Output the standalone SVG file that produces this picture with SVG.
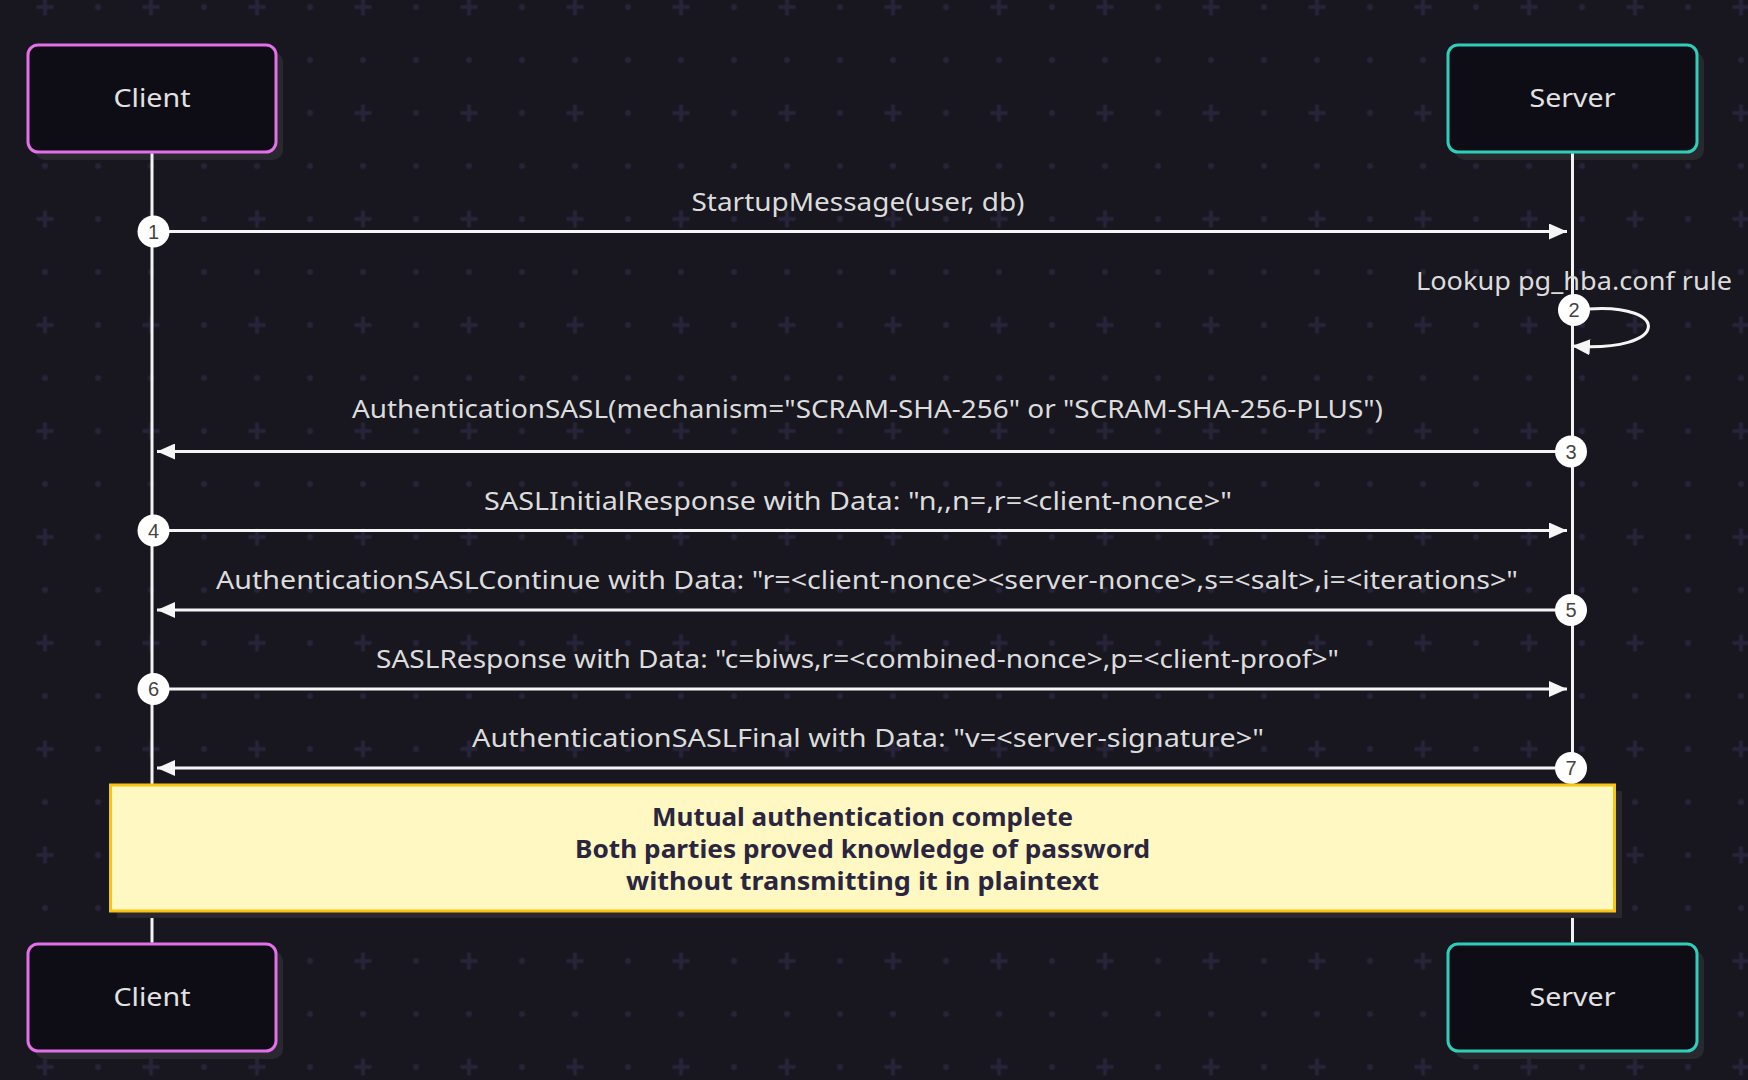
<svg xmlns="http://www.w3.org/2000/svg" width="1748" height="1080" viewBox="0 0 1748 1080">
<style>
.bg{fill:#18161f}
.grid{fill:#27243a}
.gridp{stroke:#27243a;stroke-width:4}
.shadow{fill:#29282f}
.actor{fill:#0e0d16;stroke-width:3}
.client{stroke:#e56fe9}
.server{stroke:#2ecfba}
.alabel{font-family:"Noto Sans","Open Sans",sans-serif;font-size:26px;fill:#e2e2e2;text-anchor:middle}
.life{stroke:#f2f2f2;stroke-width:3}
.msg{stroke:#f5f5f5;stroke-width:3;fill:none}
.mlabel{font-family:"Noto Sans","Open Sans",sans-serif;font-size:25px;fill:#dcdcdc;text-anchor:middle}
.num{fill:#ffffff}
.numt{font-family:"Liberation Sans",sans-serif;font-size:20px;fill:#444444;text-anchor:middle}
.note{fill:#fff8c3;stroke:#f6c414;stroke-width:3}
.notet{font-family:"Noto Sans","Open Sans",sans-serif;font-size:25px;font-weight:bold;fill:#2a2640;text-anchor:middle}
</style>
<defs>
<pattern id="grid" patternUnits="userSpaceOnUse" x="18.5" y="-19.5" width="106" height="106">
<path class="gridp" d="M18 26.5H35M26.5 18V35"/>
<circle class="grid" cx="79.5" cy="26.5" r="3"/>
<circle class="grid" cx="26.5" cy="79.5" r="3"/>
<circle class="grid" cx="79.5" cy="79.5" r="3"/>
</pattern>
<marker id="ah" markerUnits="userSpaceOnUse" markerWidth="18" markerHeight="16" refX="18" refY="8" orient="auto">
<path d="M0,0 L18,8 L0,16 z" fill="#f5f5f5"/>
</marker>
</defs>
<rect class="bg" x="0" y="0" width="1748" height="1080"/>
<rect x="0" y="0" width="1748" height="1080" fill="url(#grid)"/>

<g id="client-top">
<rect class="shadow" x="35" y="52" width="248" height="108" rx="10"/>
<rect class="actor client" x="28" y="45" width="248" height="107" rx="10"/>
<text class="alabel" x="152" y="107" textLength="77" lengthAdjust="spacingAndGlyphs">Client</text>
</g>
<g id="server-top">
<rect class="shadow" x="1455" y="52" width="249" height="108" rx="10"/>
<rect class="actor server" x="1448" y="45" width="249" height="107" rx="10"/>
<text class="alabel" x="1572.5" y="107" textLength="86" lengthAdjust="spacingAndGlyphs">Server</text>
</g>
<g id="client-bottom">
<rect class="shadow" x="35" y="951" width="248" height="108" rx="10"/>
<rect class="actor client" x="28" y="944" width="248" height="107" rx="10"/>
<text class="alabel" x="152" y="1006" textLength="77" lengthAdjust="spacingAndGlyphs">Client</text>
</g>
<g id="server-bottom">
<rect class="shadow" x="1455" y="951" width="249" height="108" rx="10"/>
<rect class="actor server" x="1448" y="944" width="249" height="107" rx="10"/>
<text class="alabel" x="1572.5" y="1006" textLength="86" lengthAdjust="spacingAndGlyphs">Server</text>
</g>

<g id="lifelines">
<line class="life" x1="152" y1="153.5" x2="152" y2="942.5"/>
<line class="life" x1="1572.5" y1="153.5" x2="1572.5" y2="942.5"/>
</g>

<g id="connectors">
<line class="msg" x1="153" y1="231.5" x2="1567" y2="231.5" marker-end="url(#ah)"/>
<text class="mlabel" x="858" y="211" textLength="333" lengthAdjust="spacingAndGlyphs">StartupMessage(user, db)</text>

<path class="msg" d="M1588 309 C1671 303 1671 353 1572 346" marker-end="url(#ah)"/>
<text class="mlabel" x="1574" y="290" textLength="316" lengthAdjust="spacingAndGlyphs">Lookup pg_hba.conf rule</text>

<line class="msg" x1="1571" y1="451.5" x2="157" y2="451.5" marker-end="url(#ah)"/>
<text class="mlabel" x="867.5" y="418" textLength="1031" lengthAdjust="spacingAndGlyphs">AuthenticationSASL(mechanism="SCRAM-SHA-256" or "SCRAM-SHA-256-PLUS")</text>

<line class="msg" x1="153" y1="530.5" x2="1567" y2="530.5" marker-end="url(#ah)"/>
<text class="mlabel" x="858" y="509.5" textLength="748" lengthAdjust="spacingAndGlyphs">SASLInitialResponse with Data: "n,,n=,r=&lt;client-nonce&gt;"</text>

<line class="msg" x1="1571" y1="610" x2="157" y2="610" marker-end="url(#ah)"/>
<text class="mlabel" x="867" y="589" textLength="1302" lengthAdjust="spacingAndGlyphs">AuthenticationSASLContinue with Data: "r=&lt;client-nonce&gt;&lt;server-nonce&gt;,s=&lt;salt&gt;,i=&lt;iterations&gt;"</text>

<line class="msg" x1="153" y1="689" x2="1567" y2="689" marker-end="url(#ah)"/>
<text class="mlabel" x="857.5" y="668" textLength="963" lengthAdjust="spacingAndGlyphs">SASLResponse with Data: "c=biws,r=&lt;combined-nonce&gt;,p=&lt;client-proof&gt;"</text>

<line class="msg" x1="1571" y1="768" x2="157" y2="768" marker-end="url(#ah)"/>
<text class="mlabel" x="868" y="747" textLength="792" lengthAdjust="spacingAndGlyphs">AuthenticationSASLFinal with Data: "v=&lt;server-signature&gt;"</text>
</g>

<g id="numbers">
<circle class="num" cx="153.5" cy="231.5" r="16"/><text class="numt" x="153.5" y="238.5">1</text>
<circle class="num" cx="1574" cy="310" r="16"/><text class="numt" x="1574" y="317">2</text>
<circle class="num" cx="1571" cy="451.5" r="16"/><text class="numt" x="1571" y="458.5">3</text>
<circle class="num" cx="153.5" cy="530.5" r="16"/><text class="numt" x="153.5" y="537.5">4</text>
<circle class="num" cx="1571" cy="610" r="16"/><text class="numt" x="1571" y="617">5</text>
<circle class="num" cx="153.5" cy="689" r="16"/><text class="numt" x="153.5" y="696">6</text>
<circle class="num" cx="1571" cy="768" r="16"/><text class="numt" x="1571" y="775">7</text>
</g>

<g id="note">
<rect class="shadow" x="117" y="791" width="1505" height="127"/>
<rect class="note" x="110.5" y="785" width="1504" height="126"/>
<text class="notet" x="862.5" y="826" textLength="421" lengthAdjust="spacingAndGlyphs">Mutual authentication complete</text>
<text class="notet" x="862.5" y="858" textLength="575" lengthAdjust="spacingAndGlyphs">Both parties proved knowledge of password</text>
<text class="notet" x="862.5" y="890" textLength="473" lengthAdjust="spacingAndGlyphs">without transmitting it in plaintext</text>
</g>
</svg>
